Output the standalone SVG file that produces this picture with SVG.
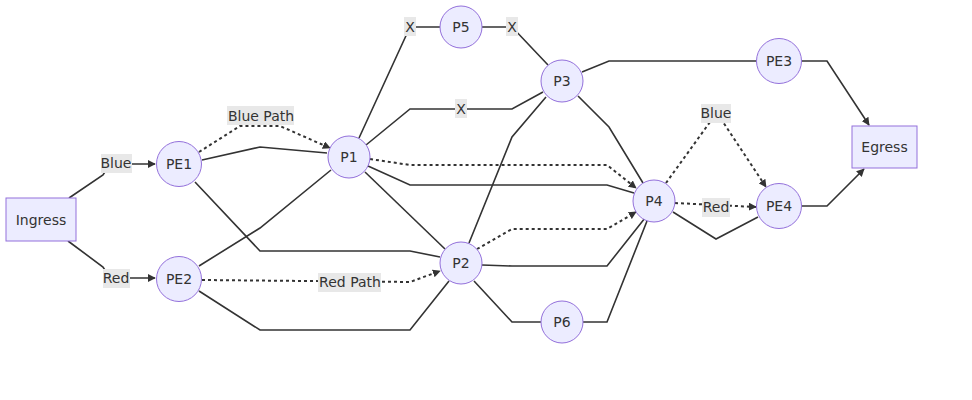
<svg xmlns="http://www.w3.org/2000/svg" width="972" height="400" viewBox="0 0 972 400">
<defs>
<marker id="ah" viewBox="0 0 10 10" refX="9" refY="5" markerWidth="8" markerHeight="8" markerUnits="userSpaceOnUse" orient="auto"><path d="M0,0L10,5L0,10z" fill="#333"/></marker>
<style>
.n{fill:#ECECFF;stroke:#9370DB;stroke-width:1}
.t{font-family:"DejaVu Sans","Liberation Sans",sans-serif;font-size:14px;fill:#333;text-anchor:middle;dominant-baseline:central}
.e{fill:none;stroke:#333;stroke-width:1.6}
.d{stroke-dasharray:3 3;stroke-width:2}
.a{marker-end:url(#ah)}
.lb{fill:#e8e8e8}
</style>
</defs>
<rect width="972" height="400" fill="#fff"/>
<g id="connectors">
<path class="e a" d="M69,198L103,175L110,164L155,164"/>
<path class="e a" d="M68,241L103,267L110,278L155,278"/>
<path class="e" d="M202,160L260,147L327,153"/>
<path class="e d a" d="M199,152L240,126L280,126L330,148"/>
<path class="e" d="M195,182L260,251L410,251L440,257"/>
<path class="e" d="M199,266L260,228L331,170"/>
<path class="e d a" d="M202,280L410,282L440,271"/>
<path class="e" d="M199,291L260,330L410,330L449,281"/>
<path class="e" d="M359,138L410,27L440,27"/>
<path class="e" d="M482,27L512,27L548,65"/>
<path class="e" d="M366,145L410,109L512,109L543,92"/>
<path class="e d a" d="M370,159L410,165L607,165L636,188"/>
<path class="e" d="M368,166L410,185L607,185L634,193"/>
<path class="e" d="M365,172L445,249"/>
<path class="e" d="M469,243L512,137L546,97"/>
<path class="e d a" d="M477,249L512,229L607,229L636,212"/>
<path class="e" d="M482,265L512,266L607,266L645,218"/>
<path class="e" d="M474,281L512,322L541,322"/>
<path class="e" d="M583,322L607,322L647,221"/>
<path class="e" d="M582,72L609,61L756,61"/>
<path class="e" d="M578,96L609,127L643,183"/>
<path class="e d a" d="M666,183L710,122L723,122L766,187"/>
<path class="e d a" d="M675,203L756,207"/>
<path class="e" d="M673,212L716,239L758,217"/>
<path class="e a" d="M802,61L827,61L869,125"/>
<path class="e a" d="M802,206L827,206L864,169"/>
<rect class="lb" x="101" y="154" width="31" height="19"/><text class="t" x="116" y="163">Blue</text>
<rect class="lb" x="103" y="269" width="27" height="19"/><text class="t" x="116" y="278">Red</text>
<rect class="lb" x="227" y="106" width="67" height="19"/><text class="t" x="261" y="116">Blue Path</text>
<rect class="lb" x="318" y="273" width="63" height="19"/><text class="t" x="350" y="282">Red Path</text>
<rect class="lb" x="404" y="17" width="12" height="19"/><text class="t" x="410" y="27">X</text>
<rect class="lb" x="506" y="17" width="12" height="19"/><text class="t" x="512" y="27">X</text>
<rect class="lb" x="455" y="99" width="12" height="19"/><text class="t" x="461" y="109">X</text>
<rect class="lb" x="701" y="104" width="30" height="19"/><text class="t" x="716" y="113">Blue</text>
<rect class="lb" x="702" y="198" width="28" height="19"/><text class="t" x="716" y="207">Red</text>
</g>
<g id="Ingress"><rect class="n" x="6" y="198" width="70" height="43"/><text class="t" x="41" y="220">Ingress</text></g>
<g id="Egress"><rect class="n" x="852" y="126" width="65" height="42"/><text class="t" x="884.5" y="147">Egress</text></g>
<g id="PE1"><circle class="n" cx="179" cy="164" r="22.5"/><text class="t" x="179" y="164">PE1</text></g>
<g id="PE2"><circle class="n" cx="179" cy="279" r="22.5"/><text class="t" x="179" y="279">PE2</text></g>
<g id="P1"><circle class="n" cx="349" cy="157" r="21"/><text class="t" x="349" y="157">P1</text></g>
<g id="P2"><circle class="n" cx="461" cy="263" r="21"/><text class="t" x="461" y="263">P2</text></g>
<g id="P5"><circle class="n" cx="461" cy="27" r="21"/><text class="t" x="461" y="27">P5</text></g>
<g id="P3"><circle class="n" cx="562" cy="81" r="21"/><text class="t" x="562" y="81">P3</text></g>
<g id="P4"><circle class="n" cx="654" cy="201" r="21"/><text class="t" x="654" y="201">P4</text></g>
<g id="P6"><circle class="n" cx="562" cy="322" r="21"/><text class="t" x="562" y="322">P6</text></g>
<g id="PE3"><circle class="n" cx="779" cy="61" r="22.5"/><text class="t" x="779" y="61">PE3</text></g>
<g id="PE4"><circle class="n" cx="779" cy="206" r="22.5"/><text class="t" x="779" y="206">PE4</text></g>
</svg>
